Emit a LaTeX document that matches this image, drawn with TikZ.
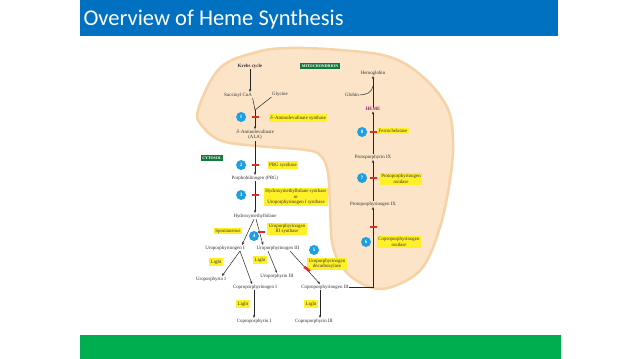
\documentclass[tikz,border=0pt]{standalone}
\usepackage{fontspec}
\setmainfont{Liberation Serif}
\newfontfamily\titlefont{Carlito}
\usetikzlibrary{positioning}
\usetikzlibrary{arrows.meta}

\definecolor{titleblue}{RGB}{0,112,192}
\definecolor{bargreen}{RGB}{0,173,79}
\definecolor{mitofill}{RGB}{252,228,200}
\definecolor{mitoedge}{RGB}{247,210,165}
\definecolor{enzyellow}{RGB}{255,240,40}
\definecolor{stepblue}{RGB}{28,160,225}
\definecolor{blockred}{RGB}{215,45,45}
\definecolor{taggreen}{RGB}{20,120,60}
\definecolor{hemepurple}{RGB}{150,40,110}

\tikzset{
  met/.style={font=\fontsize{4.9}{5.5}\selectfont, inner sep=0.6pt, align=center, text=black!80},
  enz/.style={met, fill=enzyellow, inner sep=1.3pt},
  stepno/.style={circle, fill=stepblue, text=white, font=\fontsize{5}{5}\selectfont\bfseries, minimum size=10pt, inner sep=0pt},
  blocker/.style={fill=blockred, minimum width=7pt, minimum height=2.6pt, inner sep=0pt},
  tag/.style={fill=taggreen, text=white, font=\fontsize{4}{4}\selectfont\bfseries, inner sep=1.6pt},
  arr/.style={-{Stealth[length=3pt,width=2.4pt]}, line width=0.5pt, black!85},
}

\begin{document}
\begin{tikzpicture}[x=1pt,y=-1pt]
    \useasboundingbox (0,0) rectangle (638,359);
    \fill[white] (0,0) rectangle (638,359);

    % slide bars
    \fill[titleblue] (80,0) rectangle (558,36);
    \node[anchor=west, text=white, font=\titlefont\fontsize{22.5}{22.5}\selectfont] (title) at (80,20) {Overview of Heme Synthesis};
    \fill[bargreen] (80,335) rectangle (561,359);

    % mitochondrion
    \draw[mitoedge, line width=2.5pt, fill=mitofill] plot[smooth cycle, tension=0.6] coordinates {
        (198,110) (220,68) (257,52) (290,48) (340,50) (390,57) (423,77) (447,107)
        (453,140) (450,180) (440,227) (423,267) (397,285) (373,288) (347,273)
        (333,247) (330,207) (328,173) (321,156) (306,150) (257,146) (222,141) (203,127)};

    \node[met, font=\fontsize{4.9}{5.5}\selectfont\bfseries] (krebs) at (250,66) {Krebs cycle};
    \node[tag] (mito) at (320,66) {MITOCHONDRION};
    \node[met] (succ) at (238,95) {Succinyl CoA};
    \node[met] (gly) at (280,94) {Glycine};
    \coordinate (join) at (255,110);
    \node[met] (ala) at (255,135) {$\delta$-Aminolevulinate\\(ALA)};
    \node[tag] (cyto) at (212,158) {CYTOSOL};
    \node[met] (pbg) at (255,178) {Porphobilinogen (PBG)};
    \node[met] (hmb) at (255,216) {Hydroxymethylbilane};
    \node[met] (uro1) at (225,248) {Uroporphyrinogen I};
    \node[met] (uro3) at (278,248) {Uroporphyrinogen III};
    \node[met] (urop1) at (211,279) {Uroporphyrin I};
    \node[met] (urop3) at (277,276) {Uroporphyrin III};
    \node[met] (copro1) at (255,287) {Coproporphyrinogen I};
    \node[met] (copro3) at (325,287) {Coproporphyrinogen III};
    \node[met] (cop1) at (254,321) {Coproporphyrin I};
    \node[met] (cop3) at (314,321) {Coproporphyrin III};
    \node[met] (protogen) at (373,204) {Protoporphyrinogen IX};
    \node[met] (proto) at (373,157) {Protoporphyrin IX};
    \node[met, text=hemepurple, font=\fontsize{4.9}{5.5}\selectfont\bfseries] (heme) at (373,109) {HEME};
    \node[met] (hb) at (373,73) {Hemoglobin};
    \node[met] (globin) at (352,95) {Globin};
    \coordinate (gjoin) at (373,86);

    % enzymes
    \node[enz] (e1) at (298,118) {$\delta$-Aminolevulinate synthase};
    \node[enz] (e2) at (283,165) {PBG synthase};
    \node[enz] (e3) at (296,197) {Hydroxymethylbilane synthase\\or\\Uroporphyrinogen I synthase};
    \node[enz] (spont) at (228,231) {Spontaneous};
    \node[enz] (e4) at (287,229) {Uroporphyrinogen\\III synthase};
    \node[enz] (e5) at (327,264) {Uroporphyrinogen\\decarboxylase};
    \node[enz] (e6) at (399,242) {Coproporphyrinogen\\oxidase};
    \node[enz] (e7) at (401,179) {Protoporphyrinogen\\oxidase};
    \node[enz] (e8) at (393,131) {Ferrochelatase};
    \node[enz] (l1) at (216,262) {Light};
    \node[enz] (l2) at (260,260) {Light};
    \node[enz] (l3) at (243,304) {Light};
    \node[enz] (l4) at (311,304) {Light};

    % connectors
    \draw[arr] (krebs) -- (krebs |- succ.north);
    \draw[line width=0.5pt, black!85] (succ.south east) -- (join) -- (gly.south west);
    \draw[arr] (join) -- (ala.north);
    \draw[arr] (ala) -- (pbg);
    \draw[arr] (pbg) -- (hmb);
    \draw[arr] ([xshift=-1pt]hmb.south) -- ([xshift=17pt]uro1.north);
    \draw[arr] ([xshift=1pt]hmb.south) -- ([xshift=-15pt]uro3.north);
    \draw[arr] ([xshift=15pt]uro1.south) -- ([xshift=11pt]urop1.north);
    \draw[arr] ([xshift=15pt]uro1.south) -- ([xshift=-3pt]copro1.north);
    \draw[arr] ([xshift=-10pt]uro3.south) -- (urop3.north);
    \draw[arr] ([xshift=12pt]uro3.south) -- ([xshift=-5pt]copro3.north);
    \draw[arr] ([xshift=-1pt]copro1.south) -- (cop1.north);
    \draw[arr] ([xshift=-5pt]copro3.south) -- ([xshift=6pt]cop3.north);
    \draw[arr] (copro3.east) -| (protogen.south);
    \draw[arr] (protogen) -- (proto);
    \draw[arr] (proto) -- (heme);
    \draw[arr] (heme) -- (hb);
    \draw[line width=0.5pt, black!85] (globin.east) to[out=0, in=-95] (gjoin);

    % blocks and steps
    \node[blocker] (b1) at (255,117) {};
    \node[blocker] (b2) at (255,165) {};
    \node[blocker] (b3) at (255,195) {};
    \node[blocker] (b4) at (261,232) {};
    \node[blocker, rotate=-40] (b5) at (307,269) {};
    \node[blocker] (b6) at (373,227) {};
    \node[blocker] (b7) at (373,178) {};
    \node[blocker] (b8) at (373,132) {};
    \node[stepno, left=5pt of b1] (s1) {1};
    \node[stepno, left=5pt of b2] (s2) {2};
    \node[stepno, left=5pt of b3] (s3) {3};
    \node[stepno] (s4) at (254,236) {4};
    \node[stepno] (s5) at (314,250) {5};
    \node[stepno] (s6) at (366,242) {6};
    \node[stepno, left=2pt of b7] (s7) {7};
    \node[stepno, left=2pt of b8] (s8) {8};
\end{tikzpicture}
\end{document}
